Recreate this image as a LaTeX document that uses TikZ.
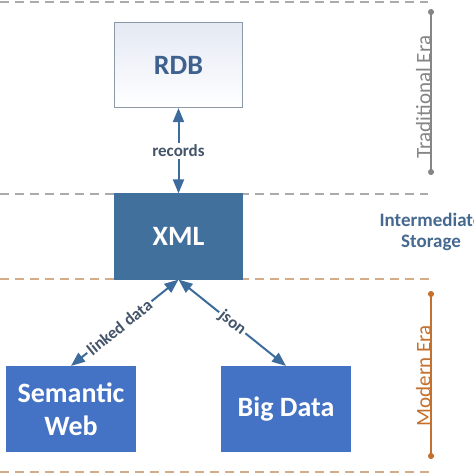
\documentclass[tikz,border=0pt]{standalone}
\usepackage{fontspec}
\setmainfont{Carlito}
\usetikzlibrary{arrows.meta,positioning}

\definecolor{xmlblue}{HTML}{41709D}
\definecolor{modblue}{HTML}{4472C4}
\definecolor{arrowblue}{HTML}{3D6C9C}
\definecolor{labelgrey}{HTML}{44546A}
\definecolor{rdbtext}{HTML}{3F6190}
\definecolor{rdbborder}{HTML}{8C99A8}
\definecolor{rdbtop}{HTML}{E4E9F3}
\definecolor{midtext}{HTML}{45698F}
\definecolor{tradgrey}{HTML}{858585}
\definecolor{modorange}{HTML}{C4702E}
\definecolor{greydash}{HTML}{ABABAB}
\definecolor{orangedash}{HTML}{D4AC88}

\begin{document}
\begin{tikzpicture}[
		x=1pt,y=-1pt,
		>={Triangle[length=14pt,width=11pt]},
		store/.style={
			rectangle,
			draw,
			line width=1.2pt,
			align=center,
			minimum width=128pt,
			minimum height=85pt,
			text=white,
			font=\fontsize{28}{33}\selectfont\bfseries
		},
		link/.style={
			<->,
			line width=2pt,
			draw=arrowblue
		},
		linklabel/.style={
			fill=white,
			inner sep=2pt,
			text=labelgrey,
			font=\fontsize{17}{19}\selectfont\bfseries
		},
		divider/.style={
			line width=1.5pt,
			dash pattern=on 9pt off 6pt
		},
		era/.style={
			line width=1.5pt,
			{Circle[length=6pt]}-{Circle[length=6pt]}
		},
		eratext/.style={
			rotate=90,
			anchor=south,
			inner sep=0pt,
			font=\fontsize{21}{24}\selectfont
		}
		]
		
		\clip (0,0) rectangle (474,474);
		
		% -------------------------------------------------------------------------
		% Era dividers
		% -------------------------------------------------------------------------
		
		\draw[divider,draw=greydash] (0,2) -- (428,2);
		\draw[divider,draw=greydash] (0,194) -- (428,194);
		\draw[divider,draw=orangedash] (0,279) -- (430,279);
		\draw[divider,draw=orangedash] (0,472) -- (430,472);
		
		% -------------------------------------------------------------------------
		% Storage nodes
		% -------------------------------------------------------------------------
		
		\node[store,draw=rdbborder,top color=rdbtop,bottom color=white,text=rdbtext] (RDB) at (178.5,65)
		{RDB};
		
		\node[store,draw=xmlblue,fill=xmlblue] (XML) at (178.5,236.5)
		{XML};
		
		\node[store,draw=modblue,fill=modblue] (SW) at (71,409)
		{Semantic\\Web};
		
		\node[store,draw=modblue,fill=modblue] (BD) at (286,409)
		{Big Data};
		
		% -------------------------------------------------------------------------
		% Exchange arrows
		% -------------------------------------------------------------------------
		
		\draw[link] (RDB) -- node[linklabel] {records} (XML);
		\draw[link] (XML.south) -- node[linklabel,sloped,pos=0.55] {linked data} (SW.north);
		\draw[link] (XML.south) -- node[linklabel,sloped] {json} (BD.north);
		
		% -------------------------------------------------------------------------
		% Era key on the right
		% -------------------------------------------------------------------------
		
		\coordinate (TRADtop) at (431,9);
		\coordinate (TRADbot) at (431,175);
		\draw[era,draw=tradgrey,fill=tradgrey] (TRADtop) -- (TRADbot);
		\node[eratext,text=tradgrey] (TRAD) at (431,97) {Traditional Era};
		
		\node[align=center,text=midtext,font=\fontsize{19}{21}\selectfont\bfseries] (MID) at (431,232)
		{Intermediate\\Storage};
		
		\coordinate (MODtop) at (431,291);
		\coordinate (MODbot) at (431,459);
		\draw[era,draw=modorange,fill=modorange] (MODtop) -- (MODbot);
		\node[eratext,text=modorange] (MOD) at (431,376) {Modern Era};
		
\end{tikzpicture}
\end{document}
